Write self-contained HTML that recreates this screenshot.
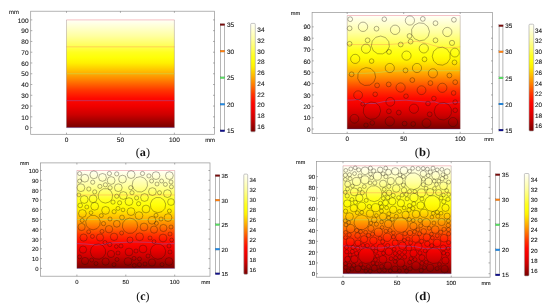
<!DOCTYPE html>
<html lang="en"><head><meta charset="utf-8"><title>Temperature field figure</title>
<style>html,body{margin:0;padding:0;background:#fff}body{width:550px;height:305px;overflow:hidden}svg{display:block}</style>
</head><body>
<svg width="550" height="305" viewBox="0 0 550 305" text-rendering="geometricPrecision">
<defs><linearGradient id="g" x1="0" y1="1" x2="0" y2="0">
<stop offset="0" stop-color="#780000"/>
<stop offset="0.05" stop-color="#9a0000"/>
<stop offset="0.12" stop-color="#cc0000"/>
<stop offset="0.2" stop-color="#f00000"/>
<stop offset="0.27" stop-color="#ff0800"/>
<stop offset="0.35" stop-color="#ff3800"/>
<stop offset="0.43" stop-color="#ff7800"/>
<stop offset="0.5" stop-color="#ffac00"/>
<stop offset="0.56" stop-color="#ffd600"/>
<stop offset="0.6" stop-color="#fff000"/>
<stop offset="0.65" stop-color="#ffff08"/>
<stop offset="0.7" stop-color="#ffff20"/>
<stop offset="0.75" stop-color="#ffff50"/>
<stop offset="0.85" stop-color="#ffffa0"/>
<stop offset="1" stop-color="#fffff8"/>
</linearGradient></defs>
<rect width="550" height="305" fill="#fff"/>
<g id="panel-a">
<rect x="30.7" y="11.2" width="183.90" height="123.10" fill="none" stroke="#949494" stroke-width="0.7"/>
<path d="M30.7 127.60h1.6M214.6 127.60h-1.6M30.7 116.83h1.6M214.6 116.83h-1.6M30.7 106.06h1.6M214.6 106.06h-1.6M30.7 95.29h1.6M214.6 95.29h-1.6M30.7 84.52h1.6M214.6 84.52h-1.6M30.7 73.75h1.6M214.6 73.75h-1.6M30.7 62.98h1.6M214.6 62.98h-1.6M30.7 52.21h1.6M214.6 52.21h-1.6M30.7 41.44h1.6M214.6 41.44h-1.6M30.7 30.67h1.6M214.6 30.67h-1.6M30.7 19.90h1.6M214.6 19.90h-1.6M66.50 11.2v1.6M66.50 134.3v-1.6M120.45 11.2v1.6M120.45 134.3v-1.6M174.40 11.2v1.6M174.40 134.3v-1.6" stroke="#777" stroke-width="0.6" fill="none"/>
<rect x="66.5" y="19.9" width="107.90" height="107.70" fill="url(#g)"/>
<path d="M66.5 127.60H174.4" stroke="#5040a8" stroke-opacity="0.55" stroke-width="0.7" fill="none" stroke-linejoin="round"/>
<path d="M66.5 100.67H174.4" stroke="#7868d8" stroke-opacity="0.6" stroke-width="0.7" fill="none" stroke-linejoin="round"/>
<path d="M66.5 73.75H174.4" stroke="#b8e060" stroke-opacity="0.7" stroke-width="0.7" fill="none" stroke-linejoin="round"/>
<path d="M66.5 46.83H174.4" stroke="#ffb050" stroke-opacity="0.8" stroke-width="0.7" fill="none" stroke-linejoin="round"/>
<path d="M66.5 19.90H174.4" stroke="#f0a0a8" stroke-opacity="0.9" stroke-width="0.7" fill="none" stroke-linejoin="round"/>
<path d="M66.5 19.9V127.6M174.4 19.9V127.6" fill="none" stroke="#705858" stroke-opacity="0.5" stroke-width="0.6"/>
<g font-family='"Liberation Sans", "DejaVu Sans", sans-serif' font-size="6.5" fill="#141414" stroke="#141414" stroke-width="0.1">
<text x="28.6" y="130.29" text-anchor="end">0</text>
<text x="28.6" y="119.52" text-anchor="end">10</text>
<text x="28.6" y="108.75" text-anchor="end">20</text>
<text x="28.6" y="97.98" text-anchor="end">30</text>
<text x="28.6" y="87.21" text-anchor="end">40</text>
<text x="28.6" y="76.44" text-anchor="end">50</text>
<text x="28.6" y="65.67" text-anchor="end">60</text>
<text x="28.6" y="54.90" text-anchor="end">70</text>
<text x="28.6" y="44.13" text-anchor="end">80</text>
<text x="28.6" y="33.36" text-anchor="end">90</text>
<text x="28.6" y="22.59" text-anchor="end">100</text>
<text x="66.50" y="141.90" text-anchor="middle">0</text>
<text x="120.45" y="141.90" text-anchor="middle">50</text>
<text x="174.40" y="141.90" text-anchor="middle">100</text>
<text x="13.9" y="13.9" text-anchor="middle" font-size="5.9">mm</text>
<text x="210.1" y="141.7" text-anchor="middle" font-size="5.9">mm</text>
<rect x="220.4" y="24.6" width="4.00" height="106.20" fill="#fff" stroke="#989898" stroke-width="0.7"/>
<rect x="220.10" y="23.65" width="4.60" height="1.9" fill="#7a0a0a"/>
<text x="227" y="27.29">35</text>
<rect x="220.10" y="50.20" width="4.60" height="1.9" fill="#ff7f0e"/>
<text x="227" y="53.84">30</text>
<rect x="220.10" y="76.75" width="4.60" height="1.9" fill="#55e060"/>
<text x="227" y="80.39">25</text>
<rect x="220.10" y="103.30" width="4.60" height="1.9" fill="#1f8ae8"/>
<text x="227" y="106.94">20</text>
<rect x="220.10" y="129.85" width="4.60" height="1.9" fill="#10108a"/>
<text x="227" y="133.49">15</text>
<rect x="250.7" y="23.4" width="4.60" height="108.40" rx="1" fill="url(#g)" stroke="#a0a0a0" stroke-width="0.6"/>
<text x="257.3" y="32.09">34</text>
<text x="257.3" y="42.85">32</text>
<text x="257.3" y="53.60">30</text>
<text x="257.3" y="64.36">28</text>
<text x="257.3" y="75.11">26</text>
<text x="257.3" y="85.87">24</text>
<text x="257.3" y="96.62">22</text>
<text x="257.3" y="107.38">20</text>
<text x="257.3" y="118.13">18</text>
<text x="257.3" y="128.89">16</text>
</g>
<text x="142.9" y="156.0" text-anchor="middle" font-family='"Liberation Serif", "DejaVu Serif", serif' font-size="12" textLength="14.2" lengthAdjust="spacingAndGlyphs" fill="#111">(<tspan font-weight="bold">a</tspan>)</text>
</g>
<g id="panel-b">
<rect x="312.1" y="12.4" width="180.50" height="121.00" fill="none" stroke="#949494" stroke-width="0.7"/>
<path d="M312.1 129.00h1.6M492.6 129.00h-1.6M312.1 117.65h1.6M492.6 117.65h-1.6M312.1 106.30h1.6M492.6 106.30h-1.6M312.1 94.95h1.6M492.6 94.95h-1.6M312.1 83.60h1.6M492.6 83.60h-1.6M312.1 72.25h1.6M492.6 72.25h-1.6M312.1 60.90h1.6M492.6 60.90h-1.6M312.1 49.55h1.6M492.6 49.55h-1.6M312.1 38.20h1.6M492.6 38.20h-1.6M312.1 26.85h1.6M492.6 26.85h-1.6M347.20 12.4v1.6M347.20 133.4v-1.6M403.70 12.4v1.6M403.70 133.4v-1.6M460.20 12.4v1.6M460.20 133.4v-1.6" stroke="#777" stroke-width="0.6" fill="none"/>
<rect x="347.2" y="15.5" width="113.00" height="113.50" fill="url(#g)"/>
<path d="M347.2 129.00H460.2" stroke="#5040a8" stroke-opacity="0.55" stroke-width="0.7" fill="none" stroke-linejoin="round"/>
<path d="M347.2 100.2 L353.0 100.0 L358.0 99.5 L361.0 101.0 L364.5 103.5 L375.0 103.5 L384.0 101.6 L392.0 100.8 L406.0 100.2 L416.0 101.2 L428.0 102.1 L434.5 101.8 L439.8 103.5 L447.7 103.5 L455.6 102.5 L460.2 102.1" stroke="#7868d8" stroke-opacity="0.6" stroke-width="0.7" fill="none" stroke-linejoin="round"/>
<path d="M347.2 73.3 L364.7 73.3 L377.8 72.6 L388.3 71.3 L404.0 70.7 L460.2 70.7" stroke="#b8e060" stroke-opacity="0.7" stroke-width="0.7" fill="none" stroke-linejoin="round"/>
<path d="M347.2 44.5 L366.0 44.6 L388.3 44.5 L396.0 44.0 L403.0 43.4 L411.0 42.0 L416.0 41.2 L422.0 42.2 L428.0 43.8 L434.0 45.6 L440.0 47.1 L449.0 47.8 L455.0 47.4 L460.2 46.8" stroke="#ffb050" stroke-opacity="0.8" stroke-width="0.7" fill="none" stroke-linejoin="round"/>
<path d="M347.2 15.50H460.2" stroke="#f0a0a8" stroke-opacity="0.9" stroke-width="0.7" fill="none" stroke-linejoin="round"/>
<g fill="none" stroke="#1a1208" stroke-opacity="0.68" stroke-width="0.5">
<circle cx="350.2" cy="19.2" r="2.4"/>
<circle cx="384.3" cy="19.2" r="2.3"/>
<circle cx="409.9" cy="20.5" r="4.6"/>
<circle cx="363.0" cy="26.8" r="4.7"/>
<circle cx="349.6" cy="28.3" r="2.4"/>
<circle cx="376.5" cy="28.7" r="2.4"/>
<circle cx="395.1" cy="29.8" r="4.7"/>
<polygon points="387.05,51.27 382.66,53.89 377.55,53.72 373.34,50.81 371.38,46.09 372.28,41.05 375.75,37.30 380.71,36.03 385.56,37.63 388.78,41.61 389.34,46.70"/>
<circle cx="367.6" cy="40.3" r="2.4"/>
<circle cx="349.6" cy="43.8" r="2.4"/>
<circle cx="366" cy="48.7" r="4.6"/>
<circle cx="400.7" cy="44.5" r="2.4"/>
<circle cx="409.5" cy="36" r="2.4"/>
<circle cx="410.6" cy="41.6" r="2.4"/>
<circle cx="389" cy="51.9" r="2.4"/>
<circle cx="422.8" cy="18.9" r="2.4"/>
<polygon points="428.15,36.53 424.36,39.97 419.32,40.81 414.62,38.80 411.75,34.56 411.63,29.45 414.30,25.08 418.90,22.85 423.98,23.46 427.92,26.72 429.48,31.59"/>
<circle cx="435.5" cy="23.2" r="2.4"/>
<circle cx="453.9" cy="19.8" r="2.4"/>
<circle cx="447.3" cy="32" r="4.6"/>
<circle cx="435.5" cy="40.3" r="2.4"/>
<circle cx="452" cy="42.9" r="2.6"/>
<circle cx="423.8" cy="48.4" r="4.6"/>
<polygon points="450.02,58.72 447.28,63.03 442.63,65.18 437.57,64.47 433.69,61.14 432.22,56.24 433.64,51.33 437.49,47.96 442.55,47.21 447.21,49.31 450.00,53.60"/>
<circle cx="454.9" cy="52.6" r="4.4"/>
<circle cx="355.2" cy="58.9" r="4.6"/>
<circle cx="371.6" cy="61.1" r="2.3"/>
<circle cx="406.5" cy="55.6" r="4.6"/>
<circle cx="389.8" cy="68" r="4.6"/>
<circle cx="405.5" cy="70.4" r="2.4"/>
<circle cx="417" cy="68" r="4.6"/>
<polygon points="373.87,82.04 369.78,85.10 364.68,85.47 360.18,83.02 357.73,78.53 358.09,73.43 361.16,69.34 365.95,67.55 370.95,68.63 374.56,72.24 375.66,77.24"/>
<circle cx="351.6" cy="74.3" r="2.4"/>
<circle cx="377.1" cy="85.4" r="2.4"/>
<circle cx="388.7" cy="84.4" r="2.4"/>
<circle cx="400.6" cy="87.5" r="4.6"/>
<circle cx="412.3" cy="80.1" r="2.4"/>
<circle cx="424.5" cy="59.3" r="2.4"/>
<circle cx="454.5" cy="62.4" r="2.4"/>
<circle cx="432.9" cy="73.3" r="4.6"/>
<circle cx="449.4" cy="75.5" r="2.4"/>
<circle cx="430.4" cy="83.1" r="2.4"/>
<circle cx="455.2" cy="82.2" r="2.4"/>
<circle cx="442.3" cy="87.8" r="4.6"/>
<circle cx="421.5" cy="90.2" r="4.4"/>
<circle cx="358.1" cy="95.2" r="4.4"/>
<circle cx="375.2" cy="94.3" r="2.3"/>
<circle cx="406" cy="96.2" r="2.3"/>
<circle cx="390.3" cy="101.8" r="4.4"/>
<polygon points="379.12,115.67 375.29,118.79 370.38,119.34 365.95,117.14 363.41,112.90 363.57,107.96 366.37,103.89 370.93,101.98 375.80,102.84 379.43,106.19 380.67,110.98"/>
<circle cx="362.7" cy="104.1" r="1.9"/>
<circle cx="388.9" cy="111.3" r="2.4"/>
<circle cx="398.8" cy="112.6" r="2.4"/>
<circle cx="413.9" cy="108.7" r="4.6"/>
<circle cx="354.4" cy="118.8" r="4.4"/>
<circle cx="389.8" cy="121.4" r="4.6"/>
<circle cx="372.3" cy="122.9" r="2.3"/>
<circle cx="366" cy="125.2" r="2.2"/>
<circle cx="404.6" cy="123.6" r="2.4"/>
<circle cx="413.2" cy="124" r="2.4"/>
<circle cx="433.9" cy="98.5" r="2.3"/>
<circle cx="453.6" cy="93" r="2.3"/>
<circle cx="428" cy="103.5" r="2.3"/>
<circle cx="455.2" cy="102.1" r="2.3"/>
<polygon points="448.54,118.02 444.01,120.00 439.13,119.22 435.44,115.92 434.13,111.16 435.60,106.44 439.39,103.26 444.29,102.64 448.75,104.76 451.36,108.97 451.28,113.91"/>
<circle cx="455.2" cy="110.3" r="2.3"/>
<circle cx="429.7" cy="114.3" r="2.4"/>
<circle cx="426.5" cy="123.1" r="4.4"/>
<circle cx="453" cy="122.1" r="4.6"/>
</g>
<path d="M347.2 15.5V129.0M460.2 15.5V129.0" fill="none" stroke="#705858" stroke-opacity="0.5" stroke-width="0.6"/>
<g font-family='"Liberation Sans", "DejaVu Sans", sans-serif' font-size="6.3" fill="#141414" stroke="#141414" stroke-width="0.1">
<text x="310.6" y="131.62" text-anchor="end">0</text>
<text x="310.6" y="120.27" text-anchor="end">10</text>
<text x="310.6" y="108.92" text-anchor="end">20</text>
<text x="310.6" y="97.57" text-anchor="end">30</text>
<text x="310.6" y="86.22" text-anchor="end">40</text>
<text x="310.6" y="74.87" text-anchor="end">50</text>
<text x="310.6" y="63.52" text-anchor="end">60</text>
<text x="310.6" y="52.17" text-anchor="end">70</text>
<text x="310.6" y="40.82" text-anchor="end">80</text>
<text x="310.6" y="29.47" text-anchor="end">90</text>
<text x="347.20" y="141.00" text-anchor="middle">0</text>
<text x="403.70" y="141.00" text-anchor="middle">50</text>
<text x="460.20" y="141.00" text-anchor="middle">100</text>
<text x="295.6" y="15.0" text-anchor="middle" font-size="5.7">mm</text>
<text x="488.9" y="140.9" text-anchor="middle" font-size="5.7">mm</text>
<rect x="499.1" y="25.7" width="3.80" height="104.40" fill="#fff" stroke="#989898" stroke-width="0.7"/>
<rect x="498.80" y="24.75" width="4.40" height="1.9" fill="#7a0a0a"/>
<text x="505.2" y="28.32">35</text>
<rect x="498.80" y="50.85" width="4.40" height="1.9" fill="#ff7f0e"/>
<text x="505.2" y="54.42">30</text>
<rect x="498.80" y="76.95" width="4.40" height="1.9" fill="#55e060"/>
<text x="505.2" y="80.52">25</text>
<rect x="498.80" y="103.05" width="4.40" height="1.9" fill="#1f8ae8"/>
<text x="505.2" y="106.62">20</text>
<rect x="498.80" y="129.15" width="4.40" height="1.9" fill="#10108a"/>
<text x="505.2" y="132.72">15</text>
<rect x="529.0" y="24.2" width="4.70" height="106.80" rx="1" fill="url(#g)" stroke="#a0a0a0" stroke-width="0.6"/>
<text x="535.0" y="32.52">34</text>
<text x="535.0" y="43.16">32</text>
<text x="535.0" y="53.81">30</text>
<text x="535.0" y="64.45">28</text>
<text x="535.0" y="75.10">26</text>
<text x="535.0" y="85.74">24</text>
<text x="535.0" y="96.38">22</text>
<text x="535.0" y="107.03">20</text>
<text x="535.0" y="117.67">18</text>
<text x="535.0" y="128.32">16</text>
</g>
<text x="422.5" y="156.2" text-anchor="middle" font-family='"Liberation Serif", "DejaVu Serif", serif' font-size="12" textLength="15.4" lengthAdjust="spacingAndGlyphs" fill="#111">(<tspan font-weight="bold">b</tspan>)</text>
</g>
<g id="panel-c">
<rect x="40.4" y="162.9" width="169.60" height="113.30" fill="none" stroke="#949494" stroke-width="0.7"/>
<path d="M40.4 268.40h1.6M210 268.40h-1.6M40.4 258.61h1.6M210 258.61h-1.6M40.4 248.82h1.6M210 248.82h-1.6M40.4 239.03h1.6M210 239.03h-1.6M40.4 229.24h1.6M210 229.24h-1.6M40.4 219.45h1.6M210 219.45h-1.6M40.4 209.66h1.6M210 209.66h-1.6M40.4 199.87h1.6M210 199.87h-1.6M40.4 190.08h1.6M210 190.08h-1.6M40.4 180.29h1.6M210 180.29h-1.6M40.4 170.50h1.6M210 170.50h-1.6M76.90 162.9v1.6M76.90 276.2v-1.6M125.80 162.9v1.6M125.80 276.2v-1.6M174.70 162.9v1.6M174.70 276.2v-1.6" stroke="#777" stroke-width="0.6" fill="none"/>
<rect x="76.9" y="170.5" width="97.80" height="97.90" fill="url(#g)"/>
<path d="M76.9 268.40H174.7" stroke="#5040a8" stroke-opacity="0.55" stroke-width="0.7" fill="none" stroke-linejoin="round"/>
<path d="M76.8 243.6 L86.0 244.0 L96.0 245.0 L103.0 244.4 L110.0 243.0 L123.0 242.4 L136.0 242.0 L150.0 242.4 L162.0 244.0 L174.6 243.6" stroke="#7868d8" stroke-opacity="0.6" stroke-width="0.7" fill="none" stroke-linejoin="round"/>
<path d="M76.9 219.45H174.7" stroke="#b8e060" stroke-opacity="0.7" stroke-width="0.7" fill="none" stroke-linejoin="round"/>
<path d="M76.9 194.97H174.7" stroke="#ffb050" stroke-opacity="0.8" stroke-width="0.7" fill="none" stroke-linejoin="round"/>
<path d="M76.9 170.50H174.7" stroke="#f0a0a8" stroke-opacity="0.9" stroke-width="0.7" fill="none" stroke-linejoin="round"/>
<g fill="none" stroke="#1a1208" stroke-opacity="0.68" stroke-width="0.5">
<circle cx="79.6" cy="173.5" r="2"/>
<circle cx="84.8" cy="178.2" r="3.9"/>
<circle cx="93.8" cy="174.8" r="3.9"/>
<circle cx="102.5" cy="177.4" r="3.9"/>
<circle cx="109.4" cy="173.5" r="2.1"/>
<circle cx="116.7" cy="173.9" r="2.1"/>
<circle cx="111.1" cy="180.5" r="3.9"/>
<circle cx="122.5" cy="179.1" r="3.9"/>
<circle cx="131.1" cy="174.6" r="3.9"/>
<circle cx="142.5" cy="173.5" r="2.1"/>
<polygon points="145.50,189.76 141.72,191.94 137.35,191.72 133.80,189.18 132.18,185.13 133.01,180.84 136.03,177.68 140.28,176.66 144.41,178.09 147.10,181.53 147.51,185.88"/>
<circle cx="79.6" cy="181.1" r="2"/>
<circle cx="92.7" cy="182.2" r="2.1"/>
<circle cx="80.9" cy="187.7" r="3.9"/>
<circle cx="88.8" cy="189" r="2.1"/>
<circle cx="99.9" cy="186.4" r="2.1"/>
<circle cx="105.4" cy="184.8" r="2.1"/>
<circle cx="110.1" cy="187.7" r="2.1"/>
<circle cx="118.3" cy="187.7" r="3.9"/>
<circle cx="130.7" cy="187.7" r="2.1"/>
<circle cx="94.7" cy="191.9" r="2.1"/>
<polygon points="109.38,201.97 105.41,203.14 101.44,201.98 98.72,198.86 98.13,194.77 99.84,191.00 103.32,188.76 107.46,188.75 110.94,190.98 112.67,194.74 112.09,198.84"/>
<circle cx="78.9" cy="194.9" r="1.9"/>
<circle cx="84.2" cy="199.5" r="3.9"/>
<circle cx="93.1" cy="198.8" r="3.9"/>
<circle cx="116.7" cy="196.2" r="2.1"/>
<circle cx="123.3" cy="195.5" r="3.9"/>
<circle cx="132" cy="192.7" r="2.1"/>
<circle cx="129" cy="201.6" r="3.9"/>
<circle cx="136.6" cy="197.9" r="2.1"/>
<circle cx="144.5" cy="197.5" r="3.9"/>
<circle cx="113" cy="202.1" r="2.1"/>
<circle cx="119.6" cy="202.8" r="2.1"/>
<circle cx="138.6" cy="203.7" r="2.1"/>
<circle cx="80.2" cy="205.4" r="2.3"/>
<circle cx="94.7" cy="206.3" r="3.9"/>
<circle cx="156" cy="175.6" r="3.9"/>
<circle cx="169.4" cy="175.6" r="3.9"/>
<circle cx="151.6" cy="181" r="2"/>
<circle cx="157" cy="184" r="2"/>
<circle cx="161.6" cy="181" r="2"/>
<circle cx="165.4" cy="184.4" r="2"/>
<circle cx="171" cy="182" r="2"/>
<circle cx="171.4" cy="186.8" r="2"/>
<circle cx="152.4" cy="191.6" r="3.9"/>
<circle cx="167.4" cy="193.6" r="3.9"/>
<polygon points="164.95,208.44 161.98,211.65 157.76,212.75 153.60,211.39 150.85,208.00 150.37,203.65 152.30,199.74 156.05,197.50 160.42,197.63 164.02,200.11 165.70,204.14"/>
<circle cx="171" cy="202" r="3.4"/>
<circle cx="146" cy="209" r="3.9"/>
<circle cx="169.4" cy="211" r="2"/>
<circle cx="131" cy="211.6" r="3.9"/>
<circle cx="139" cy="215.6" r="3.9"/>
<circle cx="156" cy="215.3" r="2"/>
<circle cx="152" cy="220.3" r="3.9"/>
<circle cx="161" cy="219" r="2"/>
<circle cx="168" cy="217.6" r="3.9"/>
<circle cx="118" cy="208.4" r="2"/>
<circle cx="105.6" cy="210.4" r="3.9"/>
<circle cx="82.4" cy="213.5" r="3.9"/>
<circle cx="86.8" cy="207" r="2"/>
<polygon points="99.74,225.43 97.08,228.60 93.14,229.84 89.14,228.75 86.38,225.67 85.71,221.59 87.36,217.79 90.80,215.49 94.94,215.42 98.46,217.59 100.25,221.32"/>
<circle cx="101.3" cy="215.6" r="2"/>
<circle cx="110" cy="219" r="2"/>
<circle cx="122" cy="217.5" r="2.4"/>
<circle cx="116.8" cy="223.8" r="3.4"/>
<polygon points="137.71,226.57 136.07,230.62 132.50,233.14 128.14,233.32 124.36,231.12 122.38,227.23 122.82,222.88 125.53,219.46 129.67,218.06 133.91,219.11 136.91,222.28"/>
<polygon points="105.49,253.59 103.22,257.33 99.30,259.24 94.96,258.73 91.59,255.96 90.25,251.80 91.37,247.58 94.60,244.63 98.91,243.90 102.92,245.61 105.38,249.23"/>
<polygon points="164.95,255.04 161.98,258.25 157.76,259.35 153.60,257.99 150.85,254.60 150.37,250.25 152.30,246.34 156.05,244.10 160.42,244.23 164.02,246.71 165.70,250.74"/>
<circle cx="81.6" cy="227" r="3.6"/>
<circle cx="109" cy="229.2" r="3.7"/>
<circle cx="144" cy="227" r="3.9"/>
<circle cx="154" cy="229.6" r="3.6"/>
<circle cx="163.4" cy="228" r="3.6"/>
<circle cx="171" cy="227" r="2"/>
<circle cx="156.4" cy="223.3" r="2"/>
<circle cx="102" cy="231.4" r="2"/>
<circle cx="121.6" cy="233" r="2"/>
<circle cx="83.6" cy="237.6" r="3.6"/>
<circle cx="100" cy="237.5" r="3.6"/>
<circle cx="92.4" cy="236.4" r="2"/>
<circle cx="114" cy="236.8" r="3.7"/>
<circle cx="139.6" cy="236.8" r="3.9"/>
<circle cx="150" cy="238" r="2"/>
<circle cx="163" cy="238" r="3.9"/>
<circle cx="170" cy="234" r="2"/>
<circle cx="130" cy="240" r="3"/>
<circle cx="105" cy="242.5" r="2"/>
<circle cx="83" cy="249.6" r="3.6"/>
<circle cx="111" cy="254" r="3.6"/>
<circle cx="129" cy="252" r="3.9"/>
<circle cx="143" cy="249" r="3.9"/>
<circle cx="121" cy="246" r="2"/>
<circle cx="136" cy="251" r="2"/>
<circle cx="148" cy="256" r="2"/>
<circle cx="170" cy="252" r="2"/>
<circle cx="169" cy="246" r="2"/>
<circle cx="85" cy="261" r="3.6"/>
<circle cx="105.6" cy="261.6" r="3.6"/>
<circle cx="128" cy="261.5" r="3.9"/>
<circle cx="139.5" cy="259" r="2"/>
<circle cx="152" cy="262.5" r="3.6"/>
<circle cx="169" cy="261.5" r="3.9"/>
<circle cx="118" cy="253" r="2"/>
<circle cx="117" cy="259.5" r="2"/>
<circle cx="96" cy="263.5" r="2"/>
<circle cx="114" cy="264.7" r="2"/>
<circle cx="134" cy="258.4" r="2"/>
<circle cx="145" cy="264" r="2"/>
<circle cx="162" cy="264.6" r="2"/>
<circle cx="88.7" cy="231.8" r="1.97"/>
<circle cx="159.5" cy="192.7" r="2.04"/>
<circle cx="154.0" cy="241.6" r="1.9"/>
<circle cx="79.6" cy="256.9" r="1.91"/>
<circle cx="91.0" cy="212.7" r="1.87"/>
<circle cx="91.7" cy="260.1" r="1.99"/>
<circle cx="116.3" cy="246.5" r="1.85"/>
<circle cx="114.1" cy="211.7" r="2.11"/>
<circle cx="139.4" cy="264.6" r="2.07"/>
<circle cx="103.5" cy="223.6" r="2.1"/>
<circle cx="171.6" cy="240.0" r="1.88"/>
<circle cx="134.3" cy="265.5" r="2.0"/>
<circle cx="82.2" cy="220.5" r="1.99"/>
<circle cx="148.9" cy="175.9" r="2.07"/>
<circle cx="123.0" cy="209.9" r="1.86"/>
<circle cx="109.8" cy="244.5" r="2.13"/>
</g>
<path d="M76.9 170.5V268.4M174.7 170.5V268.4" fill="none" stroke="#705858" stroke-opacity="0.5" stroke-width="0.6"/>
<g font-family='"Liberation Sans", "DejaVu Sans", sans-serif' font-size="5.9" fill="#141414" stroke="#141414" stroke-width="0.1">
<text x="38.6" y="270.87" text-anchor="end">0</text>
<text x="38.6" y="261.08" text-anchor="end">10</text>
<text x="38.6" y="251.29" text-anchor="end">20</text>
<text x="38.6" y="241.50" text-anchor="end">30</text>
<text x="38.6" y="231.71" text-anchor="end">40</text>
<text x="38.6" y="221.92" text-anchor="end">50</text>
<text x="38.6" y="212.13" text-anchor="end">60</text>
<text x="38.6" y="202.34" text-anchor="end">70</text>
<text x="38.6" y="192.55" text-anchor="end">80</text>
<text x="38.6" y="182.76" text-anchor="end">90</text>
<text x="38.6" y="172.97" text-anchor="end">100</text>
<text x="76.90" y="283.60" text-anchor="middle">0</text>
<text x="125.80" y="283.60" text-anchor="middle">50</text>
<text x="174.70" y="283.60" text-anchor="middle">100</text>
<text x="24.6" y="164.9" text-anchor="middle" font-size="5.4">mm</text>
<text x="205.8" y="283.5" text-anchor="middle" font-size="5.4">mm</text>
<rect x="215.6" y="175.6" width="3.90" height="98.10" fill="#fff" stroke="#989898" stroke-width="0.7"/>
<rect x="215.30" y="174.65" width="4.50" height="1.9" fill="#7a0a0a"/>
<text x="221.4" y="178.07">35</text>
<rect x="215.30" y="199.18" width="4.50" height="1.9" fill="#ff7f0e"/>
<text x="221.4" y="202.60">30</text>
<rect x="215.30" y="223.70" width="4.50" height="1.9" fill="#55e060"/>
<text x="221.4" y="227.12">25</text>
<rect x="215.30" y="248.22" width="4.50" height="1.9" fill="#1f8ae8"/>
<text x="221.4" y="251.65">20</text>
<rect x="215.30" y="272.75" width="4.50" height="1.9" fill="#10108a"/>
<text x="221.4" y="276.17">15</text>
<rect x="243.8" y="174.1" width="3.90" height="100.20" rx="1" fill="url(#g)" stroke="#a0a0a0" stroke-width="0.6"/>
<text x="249.6" y="181.97">34</text>
<text x="249.6" y="191.96">32</text>
<text x="249.6" y="201.95">30</text>
<text x="249.6" y="211.94">28</text>
<text x="249.6" y="221.93">26</text>
<text x="249.6" y="231.92">24</text>
<text x="249.6" y="241.91">22</text>
<text x="249.6" y="251.90">20</text>
<text x="249.6" y="261.89">18</text>
<text x="249.6" y="271.87">16</text>
</g>
<text x="142.9" y="299.6" text-anchor="middle" font-family='"Liberation Serif", "DejaVu Serif", serif' font-size="12" textLength="13.3" lengthAdjust="spacingAndGlyphs" fill="#111">(<tspan font-weight="bold">c</tspan>)</text>
</g>
<g id="panel-d">
<rect x="316.4" y="161.6" width="173.70" height="115.60" fill="none" stroke="#949494" stroke-width="0.7"/>
<path d="M316.4 273.70h1.6M490.1 273.70h-1.6M316.4 262.91h1.6M490.1 262.91h-1.6M316.4 252.12h1.6M490.1 252.12h-1.6M316.4 241.33h1.6M490.1 241.33h-1.6M316.4 230.54h1.6M490.1 230.54h-1.6M316.4 219.75h1.6M490.1 219.75h-1.6M316.4 208.96h1.6M490.1 208.96h-1.6M316.4 198.17h1.6M490.1 198.17h-1.6M316.4 187.38h1.6M490.1 187.38h-1.6M316.4 176.59h1.6M490.1 176.59h-1.6M343.00 161.6v1.6M343.00 277.2v-1.6M397.10 161.6v1.6M397.10 277.2v-1.6M451.20 161.6v1.6M451.20 277.2v-1.6" stroke="#777" stroke-width="0.6" fill="none"/>
<rect x="343.0" y="165.8" width="108.20" height="107.90" fill="url(#g)"/>
<path d="M343.0 273.70H451.2" stroke="#5040a8" stroke-opacity="0.55" stroke-width="0.7" fill="none" stroke-linejoin="round"/>
<path d="M342.8 245.8 L350.0 246.4 L359.8 248.0 L381.6 248.0 L396.9 245.8 L414.4 246.5 L425.3 248.7 L440.5 248.7 L451.2 247.3" stroke="#7868d8" stroke-opacity="0.6" stroke-width="0.7" fill="none" stroke-linejoin="round"/>
<path d="M343.0 219.75H451.2" stroke="#b8e060" stroke-opacity="0.7" stroke-width="0.7" fill="none" stroke-linejoin="round"/>
<path d="M343.0 192.78H451.2" stroke="#ffb050" stroke-opacity="0.8" stroke-width="0.7" fill="none" stroke-linejoin="round"/>
<path d="M343.0 165.80H451.2" stroke="#f0a0a8" stroke-opacity="0.9" stroke-width="0.7" fill="none" stroke-linejoin="round"/>
<g fill="none" stroke="#1a1208" stroke-opacity="0.68" stroke-width="0.5">
<polygon points="418.42,187.94 413.96,189.64 409.30,188.66 405.90,185.31 404.85,180.66 406.49,176.18 410.28,173.29 415.04,172.91 419.24,175.17 421.56,179.34 421.25,184.10"/>
<polygon points="381.48,196.59 378.68,200.16 374.39,201.65 369.98,200.58 366.84,197.30 365.98,192.84 367.66,188.62 371.36,185.99 375.89,185.77 379.83,188.03 381.91,192.07"/>
<polygon points="436.98,210.06 432.69,211.55 428.28,210.48 425.14,207.20 424.28,202.74 425.96,198.53 429.66,195.89 434.19,195.67 438.13,197.93 440.21,201.97 439.78,206.49"/>
<polygon points="367.00,227.47 363.33,229.62 359.08,229.45 355.60,227.00 353.99,223.07 354.77,218.89 357.68,215.79 361.81,214.76 365.84,216.12 368.49,219.45 368.92,223.68"/>
<polygon points="408.02,227.20 405.68,230.76 401.80,232.48 397.59,231.83 394.41,229.01 393.25,224.92 394.49,220.85 397.74,218.10 401.95,217.54 405.80,219.35 408.06,222.95"/>
<polygon points="373.19,259.93 369.77,262.92 365.28,263.58 361.14,261.71 358.68,257.89 358.66,253.35 361.10,249.53 365.23,247.63 369.72,248.26 373.16,251.22 374.46,255.57"/>
<polygon points="440.74,260.02 437.28,262.96 432.78,263.57 428.67,261.64 426.25,257.80 426.29,253.26 428.78,249.46 432.92,247.61 437.41,248.30 440.82,251.30 442.06,255.67"/>
<circle cx="426.3" cy="222.7" r="4.14"/>
<circle cx="378.4" cy="232.2" r="4.1"/>
<circle cx="443.5" cy="185.8" r="3.92"/>
<circle cx="400.8" cy="263.1" r="3.99"/>
<circle cx="415.9" cy="265.9" r="4.16"/>
<circle cx="415.7" cy="238.6" r="3.86"/>
<circle cx="377.4" cy="176.2" r="4.02"/>
<circle cx="383.1" cy="183.7" r="3.6"/>
<circle cx="444.0" cy="238.2" r="3.9"/>
<circle cx="364.9" cy="179.8" r="4.07"/>
<circle cx="416.0" cy="214.1" r="3.84"/>
<circle cx="430.1" cy="192.1" r="3.61"/>
<circle cx="414.0" cy="197.5" r="4.09"/>
<circle cx="445.5" cy="207.8" r="3.65"/>
<circle cx="399.3" cy="180.7" r="3.82"/>
<circle cx="375.6" cy="207.7" r="4.08"/>
<circle cx="413.5" cy="253.3" r="3.62"/>
<circle cx="390.8" cy="181.0" r="3.61"/>
<circle cx="356.5" cy="181.5" r="4.03"/>
<circle cx="370.0" cy="213.6" r="3.7"/>
<circle cx="383.0" cy="216.5" r="3.63"/>
<circle cx="354.2" cy="191.9" r="3.93"/>
<circle cx="441.6" cy="222.0" r="3.66"/>
<circle cx="392.3" cy="201.3" r="3.63"/>
<circle cx="365.0" cy="170.8" r="3.89"/>
<circle cx="349.5" cy="216.6" r="3.91"/>
<circle cx="387.3" cy="237.3" r="4.17"/>
<circle cx="435.6" cy="175.4" r="3.95"/>
<circle cx="405.6" cy="214.8" r="3.69"/>
<circle cx="354.4" cy="259.3" r="3.71"/>
<circle cx="399.4" cy="237.3" r="3.82"/>
<circle cx="387.9" cy="265.7" r="3.72"/>
<circle cx="420.6" cy="205.5" r="3.73"/>
<circle cx="395.2" cy="171.3" r="3.7"/>
<circle cx="364.1" cy="239.2" r="3.59"/>
<circle cx="373.4" cy="240.7" r="3.73"/>
<circle cx="396.2" cy="188.4" r="3.8"/>
<circle cx="413.4" cy="226.1" r="3.65"/>
<circle cx="350.2" cy="241.9" r="4.04"/>
<circle cx="353.8" cy="208.2" r="3.65"/>
<circle cx="418.2" cy="246.5" r="3.89"/>
<circle cx="445.4" cy="260.6" r="3.61"/>
<circle cx="424.0" cy="213.3" r="4.06"/>
<circle cx="388.8" cy="251.7" r="3.71"/>
<circle cx="400.9" cy="203.2" r="3.67"/>
<circle cx="380.9" cy="247.8" r="3.87"/>
<circle cx="393.2" cy="209.7" r="3.71"/>
<circle cx="437.0" cy="242.9" r="3.88"/>
<circle cx="350.7" cy="228.6" r="4.16"/>
<circle cx="347.3" cy="203.5" r="3.65"/>
<circle cx="426.8" cy="237.4" r="3.63"/>
<circle cx="361.7" cy="206.3" r="4.18"/>
<circle cx="444.6" cy="269.1" r="3.73"/>
<circle cx="435.2" cy="229.6" r="3.87"/>
<circle cx="428.6" cy="181.5" r="3.67"/>
<circle cx="421.4" cy="192.9" r="4.01"/>
<circle cx="402.4" cy="245.7" r="3.82"/>
<circle cx="359.3" cy="198.0" r="3.72"/>
<circle cx="403.9" cy="170.5" r="3.78"/>
<circle cx="430.2" cy="267.8" r="3.63"/>
<circle cx="382.9" cy="259.4" r="3.93"/>
<circle cx="388.3" cy="223.9" r="3.94"/>
<circle cx="389.1" cy="192.7" r="2.69"/>
<circle cx="385.5" cy="202.8" r="2.89"/>
<circle cx="374.3" cy="268.1" r="3.0"/>
<circle cx="374.2" cy="219.8" r="2.77"/>
<circle cx="395.2" cy="243.0" r="3.05"/>
<circle cx="427.3" cy="243.8" r="2.72"/>
<circle cx="438.6" cy="192.5" r="3.06"/>
<circle cx="358.0" cy="268.8" r="3.09"/>
<circle cx="370.9" cy="228.4" r="3.07"/>
<circle cx="394.9" cy="269.0" r="3.03"/>
<circle cx="357.6" cy="235.5" r="2.84"/>
<circle cx="408.9" cy="248.0" r="2.92"/>
<circle cx="347.6" cy="259.2" r="2.91"/>
<circle cx="421.9" cy="257.7" r="3.02"/>
<circle cx="410.0" cy="233.0" r="2.67"/>
<circle cx="357.9" cy="243.0" r="3.04"/>
<circle cx="388.5" cy="172.2" r="2.93"/>
<circle cx="347.6" cy="184.1" r="2.89"/>
<circle cx="447.1" cy="216.1" r="3.03"/>
<circle cx="404.0" cy="190.2" r="2.74"/>
<circle cx="380.2" cy="169.8" r="2.76"/>
<circle cx="423.3" cy="173.6" r="3.13"/>
<circle cx="423.7" cy="231.4" r="2.81"/>
<circle cx="447.2" cy="171.7" r="2.93"/>
<circle cx="443.3" cy="247.9" r="2.94"/>
<circle cx="347.2" cy="195.9" r="2.14"/>
<circle cx="357.8" cy="248.3" r="2.06"/>
<circle cx="436.5" cy="184.5" r="1.95"/>
<circle cx="421.9" cy="263.3" r="2.04"/>
<circle cx="398.6" cy="197.6" r="1.94"/>
<circle cx="367.3" cy="245.6" r="2.11"/>
<circle cx="446.7" cy="190.6" r="1.87"/>
<circle cx="381.5" cy="211.1" r="1.97"/>
<circle cx="349.5" cy="174.7" r="2.01"/>
<circle cx="364.3" cy="186.5" r="1.91"/>
<circle cx="413.0" cy="208.5" r="2.03"/>
<circle cx="355.5" cy="202.4" r="2.04"/>
<circle cx="404.6" cy="252.1" r="2.08"/>
<circle cx="387.7" cy="245.5" r="2.06"/>
<circle cx="376.4" cy="224.2" r="2.1"/>
<circle cx="441.1" cy="213.2" r="1.85"/>
<circle cx="373.7" cy="170.9" r="2.1"/>
<circle cx="345.6" cy="211.2" r="2.14"/>
<circle cx="446.0" cy="177.1" r="1.96"/>
<circle cx="352.3" cy="251.5" r="2.07"/>
<circle cx="443.8" cy="201.7" r="2.14"/>
<circle cx="380.0" cy="238.4" r="1.9"/>
<circle cx="437.8" cy="216.3" r="2.07"/>
<circle cx="447.5" cy="254.2" r="1.98"/>
<circle cx="407.1" cy="198.8" r="2.02"/>
<circle cx="363.3" cy="267.8" r="1.94"/>
<circle cx="442.2" cy="178.7" r="2.15"/>
<circle cx="443.5" cy="195.0" r="1.85"/>
<circle cx="360.0" cy="175.8" r="1.95"/>
<circle cx="448.2" cy="225.4" r="2.13"/>
<circle cx="345.3" cy="175.2" r="2.05"/>
<circle cx="399.5" cy="211.4" r="1.96"/>
<circle cx="352.1" cy="269.1" r="1.95"/>
<circle cx="425.2" cy="250.8" r="1.97"/>
<circle cx="405.0" cy="233.7" r="2.13"/>
<circle cx="358.7" cy="169.9" r="2.05"/>
<circle cx="353.1" cy="247.4" r="2.13"/>
<circle cx="370.1" cy="182.9" r="1.89"/>
<circle cx="437.2" cy="235.7" r="1.95"/>
<circle cx="419.5" cy="233.8" r="2.01"/>
<circle cx="386.6" cy="207.7" r="1.96"/>
<circle cx="404.8" cy="267.5" r="1.98"/>
<circle cx="404.6" cy="257.0" r="2.12"/>
<circle cx="420.1" cy="220.5" r="2.13"/>
<circle cx="444.0" cy="229.3" r="2.12"/>
<circle cx="362.3" cy="192.7" r="2.12"/>
<circle cx="365.6" cy="232.3" r="1.95"/>
<circle cx="417.9" cy="229.6" r="1.85"/>
<circle cx="418.2" cy="168.7" r="2.12"/>
<circle cx="372.9" cy="247.6" r="2.15"/>
<circle cx="395.6" cy="257.9" r="1.87"/>
<circle cx="377.2" cy="256.0" r="1.88"/>
<circle cx="433.9" cy="223.0" r="1.96"/>
<circle cx="399.4" cy="252.5" r="2.0"/>
<circle cx="431.9" cy="217.1" r="1.85"/>
<circle cx="423.2" cy="168.4" r="1.89"/>
<circle cx="406.3" cy="194.6" r="1.92"/>
<circle cx="448.0" cy="199.3" r="2.15"/>
<circle cx="408.0" cy="238.9" r="2.01"/>
<circle cx="440.7" cy="232.3" r="2.08"/>
<circle cx="381.6" cy="222.0" r="1.84"/>
<circle cx="448.6" cy="182.1" r="1.99"/>
<circle cx="437.1" cy="268.6" r="2.06"/>
<circle cx="379.4" cy="270.7" r="2.09"/>
<circle cx="413.2" cy="220.4" r="1.86"/>
<circle cx="412.6" cy="168.3" r="1.91"/>
<circle cx="392.3" cy="219.3" r="1.98"/>
<circle cx="415.1" cy="259.5" r="1.93"/>
<circle cx="409.5" cy="205.7" r="2.16"/>
<circle cx="441.9" cy="169.4" r="1.94"/>
<circle cx="390.1" cy="230.4" r="1.95"/>
<circle cx="448.6" cy="242.6" r="2.02"/>
<circle cx="410.1" cy="268.7" r="2.15"/>
<circle cx="421.9" cy="198.9" r="2.02"/>
<circle cx="382.1" cy="227.4" r="1.84"/>
<circle cx="409.0" cy="210.0" r="2.15"/>
<circle cx="346.8" cy="251.8" r="2.03"/>
<circle cx="409.7" cy="262.4" r="2.08"/>
<circle cx="354.5" cy="173.6" r="1.92"/>
<circle cx="350.8" cy="169.0" r="2.03"/>
<circle cx="349.3" cy="234.9" r="2.04"/>
<circle cx="431.5" cy="234.1" r="1.88"/>
<circle cx="391.1" cy="258.7" r="1.97"/>
<circle cx="346.5" cy="247.4" r="1.94"/>
<circle cx="368.4" cy="266.6" r="2.09"/>
<circle cx="381.6" cy="266.5" r="2.13"/>
<circle cx="345.9" cy="224.9" r="1.84"/>
<circle cx="402.1" cy="195.1" r="1.88"/>
<circle cx="385.9" cy="176.7" r="2.08"/>
<circle cx="347.5" cy="189.0" r="1.96"/>
<circle cx="349.4" cy="265.2" r="2.15"/>
<circle cx="372.5" cy="234.1" r="1.98"/>
<circle cx="362.9" cy="245.3" r="1.86"/>
<circle cx="427.4" cy="169.1" r="1.91"/>
<circle cx="426.3" cy="262.3" r="1.98"/>
<circle cx="350.1" cy="178.7" r="1.97"/>
<circle cx="345.8" cy="170.4" r="1.91"/>
<circle cx="395.1" cy="261.6" r="1.86"/>
<circle cx="359.9" cy="189.3" r="1.92"/>
<circle cx="345.5" cy="237.6" r="1.87"/>
<circle cx="377.1" cy="263.8" r="1.93"/>
<circle cx="433.0" cy="168.2" r="2.01"/>
<circle cx="370.2" cy="271.2" r="1.9"/>
<circle cx="366.2" cy="200.4" r="1.99"/>
<circle cx="374.8" cy="182.9" r="2.11"/>
<circle cx="388.8" cy="213.8" r="2.02"/>
<circle cx="423.3" cy="184.6" r="2.07"/>
<circle cx="361.8" cy="212.4" r="1.86"/>
<circle cx="382.7" cy="241.7" r="2.06"/>
<circle cx="388.8" cy="186.4" r="2.07"/>
<circle cx="351.9" cy="199.5" r="1.98"/>
<circle cx="345.4" cy="267.6" r="1.89"/>
<circle cx="410.6" cy="242.8" r="1.92"/>
<circle cx="369.3" cy="206.5" r="2.12"/>
<circle cx="380.4" cy="203.2" r="1.99"/>
<circle cx="396.3" cy="216.3" r="2.02"/>
<circle cx="421.6" cy="241.3" r="2.11"/>
<circle cx="394.2" cy="249.2" r="1.91"/>
<circle cx="428.2" cy="175.6" r="1.91"/>
<circle cx="439.5" cy="264.4" r="1.9"/>
<circle cx="375.9" cy="251.3" r="1.95"/>
<circle cx="356.7" cy="230.5" r="2.06"/>
<circle cx="421.2" cy="270.5" r="2.11"/>
<circle cx="345.6" cy="232.4" r="1.87"/>
<circle cx="345.2" cy="220.8" r="1.92"/>
<circle cx="384.5" cy="270.5" r="1.91"/>
<circle cx="371.6" cy="177.8" r="1.9"/>
<circle cx="399.5" cy="270.8" r="1.89"/>
<circle cx="420.7" cy="225.7" r="1.98"/>
<circle cx="442.9" cy="174.6" r="1.93"/>
<circle cx="413.8" cy="203.9" r="2.15"/>
<circle cx="393.4" cy="232.9" r="1.88"/>
<circle cx="437.2" cy="169.8" r="1.85"/>
<circle cx="385.9" cy="231.1" r="1.92"/>
<circle cx="403.4" cy="176.6" r="1.94"/>
<circle cx="376.4" cy="215.5" r="1.87"/>
<circle cx="429.2" cy="228.3" r="1.9"/>
<circle cx="399.6" cy="257.0" r="1.93"/>
<circle cx="404.1" cy="207.9" r="1.9"/>
<circle cx="348.8" cy="222.5" r="1.84"/>
<circle cx="368.5" cy="235.5" r="2.11"/>
<circle cx="409.5" cy="191.6" r="2.04"/>
<circle cx="409.2" cy="219.5" r="2.05"/>
<circle cx="383.3" cy="198.4" r="1.91"/>
<circle cx="375.5" cy="259.7" r="1.88"/>
<circle cx="385.7" cy="168.1" r="1.9"/>
<circle cx="426.1" cy="188.2" r="1.91"/>
<circle cx="448.6" cy="233.9" r="2.01"/>
<circle cx="410.9" cy="258.6" r="1.87"/>
<circle cx="448.7" cy="194.5" r="1.85"/>
<circle cx="357.3" cy="212.8" r="1.97"/>
<circle cx="393.2" cy="195.4" r="2.11"/>
<circle cx="373.0" cy="263.3" r="1.89"/>
<circle cx="348.4" cy="270.8" r="1.99"/>
<circle cx="360.8" cy="264.6" r="1.9"/>
<circle cx="409.6" cy="171.3" r="1.94"/>
<circle cx="345.3" cy="179.4" r="1.85"/>
<circle cx="448.4" cy="220.9" r="1.95"/>
<circle cx="438.9" cy="181.1" r="1.84"/>
<circle cx="356.6" cy="253.4" r="2.09"/>
<circle cx="441.1" cy="198.0" r="1.96"/>
<circle cx="403.3" cy="185.0" r="1.98"/>
<circle cx="448.5" cy="229.6" r="2.03"/>
<circle cx="420.0" cy="252.9" r="2.07"/>
<circle cx="437.2" cy="212.3" r="1.98"/>
<circle cx="353.8" cy="265.3" r="1.98"/>
<circle cx="384.2" cy="189.4" r="1.92"/>
<circle cx="383.4" cy="253.3" r="1.89"/>
<circle cx="432.4" cy="237.9" r="1.86"/>
<circle cx="431.7" cy="245.7" r="2.03"/>
<circle cx="434.5" cy="188.4" r="1.85"/>
<circle cx="448.1" cy="248.4" r="1.84"/>
<circle cx="370.5" cy="174.0" r="1.87"/>
<circle cx="430.3" cy="172.1" r="2.08"/>
<circle cx="387.8" cy="197.6" r="2.14"/>
<circle cx="406.5" cy="271.2" r="1.91"/>
<circle cx="390.2" cy="270.9" r="1.85"/>
<circle cx="384.4" cy="194.0" r="1.96"/>
<circle cx="393.4" cy="237.0" r="1.89"/>
<circle cx="395.2" cy="253.5" r="1.94"/>
<circle cx="414.8" cy="191.5" r="1.89"/>
<circle cx="414.5" cy="231.8" r="1.9"/>
<circle cx="360.6" cy="231.7" r="1.92"/>
<circle cx="433.2" cy="213.3" r="1.88"/>
<circle cx="434.2" cy="181.1" r="1.88"/>
<circle cx="424.4" cy="267.6" r="1.95"/>
<circle cx="355.2" cy="167.8" r="1.87"/>
<circle cx="423.5" cy="179.2" r="1.9"/>
<circle cx="365.9" cy="271.1" r="1.85"/>
<circle cx="370.8" cy="223.1" r="1.85"/>
<circle cx="443.7" cy="253.0" r="1.93"/>
<circle cx="350.1" cy="255.0" r="1.88"/>
<circle cx="381.7" cy="207.0" r="2.0"/>
<circle cx="352.5" cy="185.9" r="1.85"/>
<circle cx="370.4" cy="168.2" r="2.07"/>
<circle cx="404.4" cy="240.3" r="1.85"/>
<circle cx="383.1" cy="173.8" r="1.93"/>
<circle cx="345.4" cy="263.7" r="1.91"/>
<circle cx="399.9" cy="174.9" r="1.92"/>
<circle cx="388.6" cy="217.8" r="1.9"/>
<circle cx="345.2" cy="192.3" r="1.87"/>
</g>
<path d="M343.0 165.8V273.7M451.2 165.8V273.7" fill="none" stroke="#705858" stroke-opacity="0.5" stroke-width="0.6"/>
<g font-family='"Liberation Sans", "DejaVu Sans", sans-serif' font-size="6.0" fill="#141414" stroke="#141414" stroke-width="0.1">
<text x="315.2" y="276.21" text-anchor="end">0</text>
<text x="315.2" y="265.42" text-anchor="end">10</text>
<text x="315.2" y="254.63" text-anchor="end">20</text>
<text x="315.2" y="243.84" text-anchor="end">30</text>
<text x="315.2" y="233.05" text-anchor="end">40</text>
<text x="315.2" y="222.26" text-anchor="end">50</text>
<text x="315.2" y="211.47" text-anchor="end">60</text>
<text x="315.2" y="200.68" text-anchor="end">70</text>
<text x="315.2" y="189.89" text-anchor="end">80</text>
<text x="315.2" y="179.10" text-anchor="end">90</text>
<text x="343.00" y="285.40" text-anchor="middle">0</text>
<text x="397.10" y="285.40" text-anchor="middle">50</text>
<text x="451.20" y="285.40" text-anchor="middle">100</text>
<text x="300.7" y="163.9" text-anchor="middle" font-size="5.5">mm</text>
<text x="486" y="285.1" text-anchor="middle" font-size="5.5">mm</text>
<rect x="495.7" y="174.7" width="3.90" height="100.20" fill="#fff" stroke="#989898" stroke-width="0.7"/>
<rect x="495.40" y="173.75" width="4.50" height="1.9" fill="#7a0a0a"/>
<text x="502.1" y="177.21">35</text>
<rect x="495.40" y="198.80" width="4.50" height="1.9" fill="#ff7f0e"/>
<text x="502.1" y="202.26">30</text>
<rect x="495.40" y="223.85" width="4.50" height="1.9" fill="#55e060"/>
<text x="502.1" y="227.31">25</text>
<rect x="495.40" y="248.90" width="4.50" height="1.9" fill="#1f8ae8"/>
<text x="502.1" y="252.36">20</text>
<rect x="495.40" y="273.95" width="4.50" height="1.9" fill="#10108a"/>
<text x="502.1" y="277.41">15</text>
<rect x="524.4" y="173.5" width="4.60" height="102.40" rx="1" fill="url(#g)" stroke="#a0a0a0" stroke-width="0.6"/>
<text x="530.8" y="181.61">34</text>
<text x="530.8" y="191.75">32</text>
<text x="530.8" y="201.90">30</text>
<text x="530.8" y="212.04">28</text>
<text x="530.8" y="222.19">26</text>
<text x="530.8" y="232.33">24</text>
<text x="530.8" y="242.48">22</text>
<text x="530.8" y="252.62">20</text>
<text x="530.8" y="262.77">18</text>
<text x="530.8" y="272.91">16</text>
</g>
<text x="422.75" y="299.6" text-anchor="middle" font-family='"Liberation Serif", "DejaVu Serif", serif' font-size="12" textLength="15.5" lengthAdjust="spacingAndGlyphs" fill="#111">(<tspan font-weight="bold">d</tspan>)</text>
</g>
</svg>
</body></html>
